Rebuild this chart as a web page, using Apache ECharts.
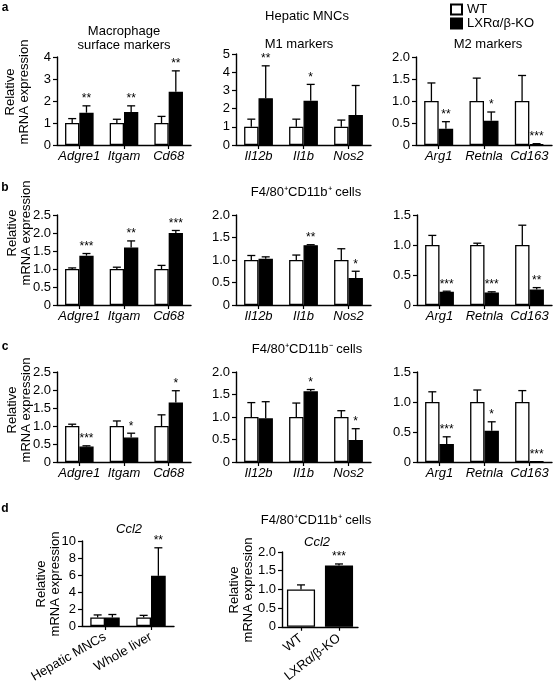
<!DOCTYPE html>
<html>
<head>
<meta charset="utf-8">
<script src="https://cdn.jsdelivr.net/npm/echarts@6/dist/echarts.min.js"></script>
<style>html,body{margin:0;padding:0;background:#fff}#c{width:554px;height:685px}</style>
</head>
<body>
<div id="c"></div>
<script>
// ---------- DATA ----------
// Panel a: Hepatic MNCs
const a1Cats = ['Adgre1', 'Itgam', 'Cd68'];
const a1WT = [1.0, 1.0, 1.0];
const a1WTErr = [0.20, 0.17, 0.30];
const a1KO = [1.47, 1.50, 2.42];
const a1KOErr = [0.31, 0.28, 0.95];
const a1Sig = ['**', '**', '**'];

const a2Cats = ['Il12b', 'Il1b', 'Nos2'];
const a2WT = [1.0, 1.0, 1.0];
const a2WTErr = [0.42, 0.42, 0.37];
const a2KO = [2.57, 2.43, 1.65];
const a2KOErr = [1.78, 0.90, 1.62];
const a2Sig = ['**', '*', ''];

const a3Cats = ['Arg1', 'Retnla', 'Cd163'];
const a3WT = [1.0, 1.0, 1.0];
const a3WTErr = [0.41, 0.52, 0.58];
const a3KO = [0.37, 0.55, 0.02];
const a3KOErr = [0.16, 0.20, 0.01];
const a3Sig = ['**', '*', '***'];

// Panel b: F4/80+CD11b+ cells
const b1WT = [1.0, 1.0, 1.0];
const b1WTErr = [0.03, 0.05, 0.10];
const b1KO = [1.37, 1.60, 2.00];
const b1KOErr = [0.06, 0.18, 0.07];
const b1Sig = ['***', '**', '***'];

const b2WT = [1.0, 1.0, 1.0];
const b2WTErr = [0.10, 0.11, 0.25];
const b2KO = [1.03, 1.33, 0.60];
const b2KOErr = [0.04, 0.01, 0.15];
const b2Sig = ['', '**', '*'];

const b3WT = [1.0, 1.0, 1.0];
const b3WTErr = [0.16, 0.03, 0.33];
const b3KO = [0.22, 0.21, 0.26];
const b3KOErr = [0.01, 0.01, 0.03];
const b3Sig = ['***', '***', '**'];

// Panel c: F4/80+CD11b- cells
const c1WT = [1.0, 1.0, 1.0];
const c1WTErr = [0.05, 0.14, 0.31];
const c1KO = [0.43, 0.68, 1.65];
const c1KOErr = [0.02, 0.12, 0.33];
const c1Sig = ['***', '*', '*'];

const c2WT = [1.0, 1.0, 1.0];
const c2WTErr = [0.32, 0.31, 0.14];
const c2KO = [0.97, 1.57, 0.49];
const c2KOErr = [0.37, 0.04, 0.25];
const c2Sig = ['', '*', '*'];

const c3WT = [1.0, 1.0, 1.0];
const c3WTErr = [0.17, 0.20, 0.19];
const c3KO = [0.30, 0.52, 0.01];
const c3KOErr = [0.12, 0.15, 0.0];
const c3Sig = ['***', '*', '***'];

// Panel d: Ccl2
const d1Cats = ['Hepatic MNCs', 'Whole liver'];
const d1WT = [1.0, 1.0];
const d1WTErr = [0.30, 0.25];
const d1KO = [1.0, 5.9];
const d1KOErr = [0.35, 3.3];
const d1Sig = ['', '**'];

const d2Cats = ['WT', 'LXRα/β-KO'];
const d2Vals = [1.0, 1.64];
const d2Err = [0.12, 0.04];
const d2Sig = ['', '***'];

// axis ranges [max, interval]
const yMax = {a1: 4, a2: 5, a3: 2, b1: 2.5, b2: 2, b3: 1.5, c1: 2.5, c2: 2, c3: 1.5, d1: 10, d2: 2};
const yStep = {a1: 1, a2: 1, a3: 0.5, b1: 0.5, b2: 0.5, b3: 0.5, c1: 0.5, c2: 0.5, c3: 0.5, d1: 2, d2: 0.5};

// ---------- LAYOUT ----------
const FONT = 'Arial, "Liberation Sans", Helvetica, sans-serif';
const layout = {
  a1: {left: 57, top: 57, width: 134, height: 88},
  a2: {left: 236, top: 54, width: 135, height: 91},
  a3: {left: 416, top: 57, width: 136, height: 88},
  b1: {left: 57, top: 215, width: 134, height: 90},
  b2: {left: 236, top: 215, width: 135, height: 90},
  b3: {left: 417, top: 215, width: 135, height: 90},
  c1: {left: 57, top: 372, width: 134, height: 90},
  c2: {left: 236, top: 372, width: 135, height: 90},
  c3: {left: 417, top: 372, width: 135, height: 90},
  d1: {left: 82, top: 541, width: 92, height: 90},
  d2: {left: 282, top: 552, width: 76, height: 79}
};

const panels = [
  {id: 'a1', cats: a1Cats, wt: a1WT, wtE: a1WTErr, ko: a1KO, koE: a1KOErr, sig: a1Sig},
  {id: 'a2', cats: a2Cats, wt: a2WT, wtE: a2WTErr, ko: a2KO, koE: a2KOErr, sig: a2Sig},
  {id: 'a3', cats: a3Cats, wt: a3WT, wtE: a3WTErr, ko: a3KO, koE: a3KOErr, sig: a3Sig},
  {id: 'b1', cats: a1Cats, wt: b1WT, wtE: b1WTErr, ko: b1KO, koE: b1KOErr, sig: b1Sig},
  {id: 'b2', cats: a2Cats, wt: b2WT, wtE: b2WTErr, ko: b2KO, koE: b2KOErr, sig: b2Sig},
  {id: 'b3', cats: a3Cats, wt: b3WT, wtE: b3WTErr, ko: b3KO, koE: b3KOErr, sig: b3Sig},
  {id: 'c1', cats: a1Cats, wt: c1WT, wtE: c1WTErr, ko: c1KO, koE: c1KOErr, sig: c1Sig},
  {id: 'c2', cats: a2Cats, wt: c2WT, wtE: c2WTErr, ko: c2KO, koE: c2KOErr, sig: c2Sig},
  {id: 'c3', cats: a3Cats, wt: c3WT, wtE: c3WTErr, ko: c3KO, koE: c3KOErr, sig: c3Sig},
  {id: 'd1', cats: d1Cats, wt: d1WT, wtE: d1WTErr, ko: d1KO, koE: d1KOErr, sig: d1Sig, rot: 30}
];

const grids = [], xAxes = [], yAxes = [], series = [];
const BW = 0.32;

function fmt(step) {
  return function (v) {
    if (v === 0) return '0';
    return step < 1 ? v.toFixed(1) : String(v);
  };
}

function addAxes(id, cats, rot, labelItalic) {
  const gi = grids.length;
  grids.push(Object.assign({containLabel: false}, layout[id]));
  xAxes.push({
    type: 'category', gridIndex: gi, data: cats,
    axisLine: {lineStyle: {color: '#000', width: 1.4}},
    axisTick: {show: true, alignWithLabel: true, length: 4, lineStyle: {color: '#000', width: 1.2}},
    axisLabel: {
      color: '#000', fontSize: 13, fontFamily: FONT, interval: 0,
      fontStyle: labelItalic ? 'italic' : 'normal', margin: rot ? 10 : 5, rotate: rot || 0
    }
  });
  yAxes.push({
    type: 'value', gridIndex: gi, min: 0, max: yMax[id], interval: yStep[id],
    splitLine: {show: false},
    axisLine: {show: true, lineStyle: {color: '#000', width: 1.4}},
    axisTick: {show: true, length: 4, lineStyle: {color: '#000', width: 1.2}},
    axisLabel: {color: '#000', fontSize: 13, fontFamily: FONT, margin: 6, formatter: fmt(yStep[id])}
  });
  return gi;
}

function errRenderer(items, bwFrac) {
  return function (params, api) {
    const it = items[params.dataIndex];
    const band = api.size([1, 0])[0];
    const bw = band * bwFrac;
    const cx = api.coord([it.i, 0])[0] + it.side * bw / 2;
    const y0 = api.coord([it.i, it.v])[1];
    const y1 = api.coord([it.i, it.v + it.e])[1];
    const cap = 4;
    const children = [];
    if (it.e > 0) {
      children.push({type: 'line', shape: {x1: cx, y1: y0, x2: cx, y2: y1}, style: {stroke: '#000', lineWidth: 1.3}});
      children.push({type: 'line', shape: {x1: cx - cap, y1: y1, x2: cx + cap, y2: y1}, style: {stroke: '#000', lineWidth: 1.3}});
    }
    if (it.s) {
      children.push({type: 'text', x: cx, y: y1 - 1, style: {text: it.s, fill: '#000', font: '12px ' + FONT, textAlign: 'center', textVerticalAlign: 'bottom'}});
    }
    return {type: 'group', children: children};
  };
}

panels.forEach(function (p) {
  const gi = addAxes(p.id, p.cats, p.rot, !p.rot);
  series.push({name: 'WT', type: 'bar', xAxisIndex: gi, yAxisIndex: gi, data: p.wt,
    barWidth: (BW * 100) + '%', barGap: '0%',
    itemStyle: {color: '#fff', borderColor: '#000', borderWidth: 1.3}, silent: true});
  series.push({name: 'LXRα/β-KO', type: 'bar', xAxisIndex: gi, yAxisIndex: gi, data: p.ko,
    barWidth: (BW * 100) + '%', barGap: '0%',
    itemStyle: {color: '#000', borderColor: '#000', borderWidth: 1.3}, silent: true});
  const items = [];
  p.cats.forEach(function (c, i) {
    items.push({i: i, v: p.wt[i], e: p.wtE[i], side: -1, s: ''});
    items.push({i: i, v: p.ko[i], e: p.koE[i], side: 1, s: p.sig[i]});
  });
  series.push({type: 'custom', xAxisIndex: gi, yAxisIndex: gi, silent: true, z: 5,
    data: items.map(function (it) { return [it.i, it.v + it.e]; }),
    renderItem: errRenderer(items, BW)});
});

// d2: single-bar categories
(function () {
  const gi = addAxes('d2', d2Cats, 38, false);
  const colors = ['#fff', '#000'];
  series.push({type: 'bar', xAxisIndex: gi, yAxisIndex: gi, barWidth: '74%', silent: true,
    data: d2Vals.map(function (v, i) { return {value: v, itemStyle: {color: colors[i], borderColor: '#000', borderWidth: 1.3}}; })});
  const items = d2Vals.map(function (v, i) { return {i: i, v: v, e: d2Err[i], side: 0, s: d2Sig[i]}; });
  series.push({type: 'custom', xAxisIndex: gi, yAxisIndex: gi, silent: true, z: 5,
    data: items.map(function (it) { return [it.i, it.v + it.e]; }),
    renderItem: errRenderer(items, 0.74)});
})();

// ---------- TEXT ----------
function txt(x, y, text, size, opts) {
  return {type: 'text', x: x, y: y, silent: true, style: Object.assign({
    text: text, fill: '#000', font: (opts && opts.font) || ((opts && opts.italic ? 'italic ' : '') + (opts && opts.bold ? 'bold ' : '') + size + 'px ' + FONT),
    textAlign: 'center', textVerticalAlign: 'middle'
  }, (opts && opts.style) || {})};
}
function yName(x, y) {
  return {type: 'text', x: x, y: y, rotation: Math.PI / 2, silent: true, style: {
    text: 'Relative\nmRNA expression', fill: '#000', font: '13px ' + FONT,
    textAlign: 'center', textVerticalAlign: 'middle', lineHeight: 14}};
}

const graphics = [
  txt(5, 8, 'a', 12, {bold: true}),
  txt(5, 188, 'b', 12, {bold: true}),
  txt(5, 347, 'c', 12, {bold: true}),
  txt(5, 509, 'd', 12, {bold: true}),
  txt(307, 16, 'Hepatic MNCs', 13),
  txt(124, 31, 'Macrophage', 13),
  txt(124, 45, 'surface markers', 13),
  txt(299, 44, 'M1 markers', 13),
  txt(488, 44, 'M2 markers', 13),
  txt(306, 192, 'F4/80⁺CD11b⁺ cells', 13),
  txt(307, 349, 'F4/80⁺CD11b⁻ cells', 13),
  txt(129, 529, 'Ccl2', 13, {italic: true}),
  txt(316, 520, 'F4/80⁺CD11b⁺ cells', 13),
  txt(317, 542, 'Ccl2', 13, {italic: true}),
  yName(17, 92),
  yName(19, 233),
  yName(19, 410),
  yName(48, 584),
  yName(241, 590)
];

const chart = echarts.init(document.getElementById('c'), null, {renderer: 'canvas'});
chart.setOption({
  backgroundColor: '#fff',
  animation: false,
  legend: {
    orient: 'vertical', left: 445, top: -2, itemWidth: 11, itemHeight: 10, itemGap: 1,
    icon: 'rect', selectedMode: false,
    data: ['WT', 'LXRα/β-KO'],
    textStyle: {color: '#000', fontSize: 13, fontFamily: FONT}
  },
  grid: grids, xAxis: xAxes, yAxis: yAxes, series: series,
  graphic: graphics
});
</script>
</body>
</html>
